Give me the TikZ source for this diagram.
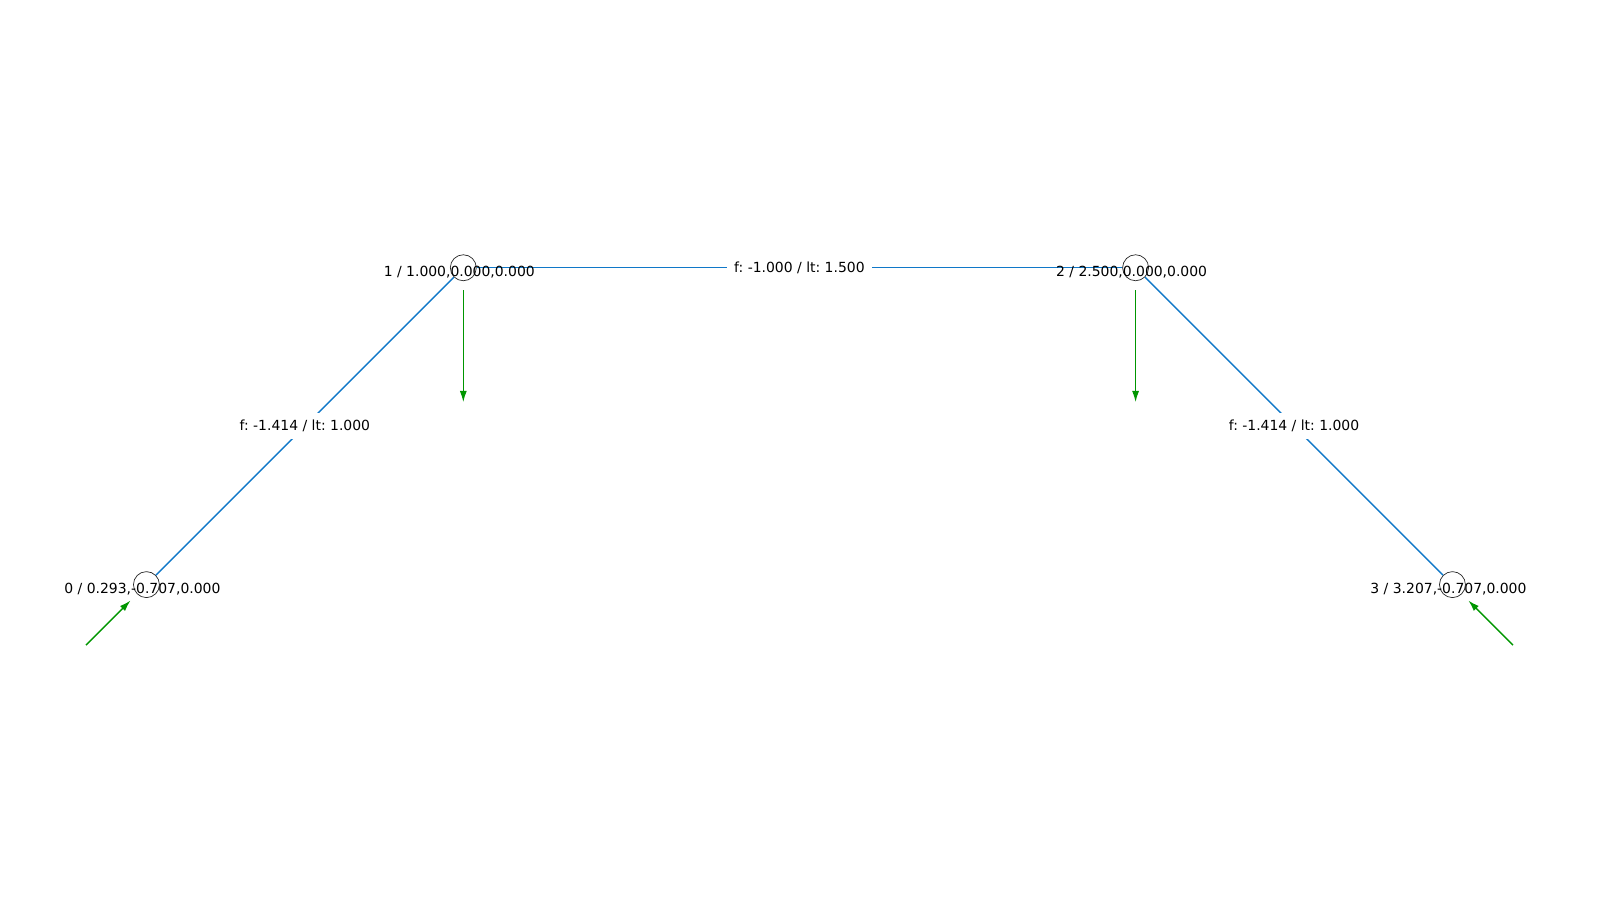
\documentclass[tikz,border=0pt]{standalone}
\usepackage{fontspec}
\setmainfont{DejaVu Sans}
\frenchspacing
\usetikzlibrary{arrows.meta}
\definecolor{barblue}{RGB}{16,120,200}
\definecolor{loadgreen}{RGB}{0,150,0}
\tikzset{>={Latex[length=8pt,width=5pt]}}
\tikzset{
  joint/.style={circle,draw=black!85,line width=0.5pt,minimum size=0.65cm,inner sep=0pt},
  member/.style={draw=barblue,line width=1pt},
  load/.style={->,draw=loadgreen,line width=1pt},
  flabel/.style={fill=white,inner sep=5pt,anchor=base,yshift=-0.12cm},
  jlabel/.style={anchor=base,xshift=-0.1cm,yshift=-0.23cm}
}

\begin{document}
\begin{tikzpicture}[x=11.21cm,y=11.21cm,font=\fontsize{9.92}{11.9}\selectfont]
\useasboundingbox (-0.0337,-1.4106) rectangle (3.5362,0.5974);
% joints
\foreach \i/\px/\py in {0/0.293/-0.707,1/1.000/0.000,2/2.500/0.000,3/3.207/-0.707}
\node[joint] (n\i) at (\px,\py) {};
% members
\draw[member] (n0) -- node[flabel] (f01) {f: -1.414 / lt: 1.000} (n1);
\draw[member] (n1) -- node[flabel] (f12) {f: -1.000 / lt: 1.500} (n2);
\draw[member] (n2) -- node[flabel] (f23) {f: -1.414 / lt: 1.000} (n3);
% loads and reactions
\coordinate (a1) at (1,-0.05); \coordinate (b1) at (1,-0.3);
\coordinate (a2) at (2.5,-0.05); \coordinate (b2) at (2.5,-0.3);
\coordinate (a0) at (0.158,-0.842); \coordinate (b0) at (0.2576,-0.7424);
\coordinate (a3) at (3.342,-0.842); \coordinate (b3) at (3.2424,-0.7424);
\foreach \k in {0,1,2,3}
\draw[load] (a\k) -- (b\k);
% joint labels
\foreach \i/\px/\py in {0/0.293/-0.707,1/1.000/0.000,2/2.500/0.000,3/3.207/-0.707}
\node[jlabel] (t\i) at (n\i.center) {\i{} / \px,\py,0.000};
\end{tikzpicture}
\end{document}
